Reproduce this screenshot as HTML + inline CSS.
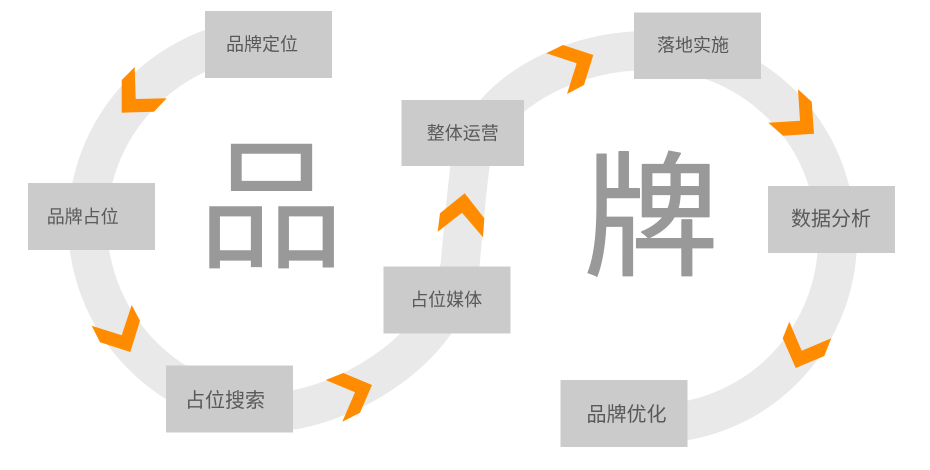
<!DOCTYPE html>
<html lang="zh">
<head>
<meta charset="utf-8">
<title>品牌</title>
<style>
html,body{margin:0;padding:0;background:#fff;width:930px;height:470px;overflow:hidden}
svg{display:block}
text{font-family:"Liberation Sans","Noto Sans CJK SC",sans-serif;fill:#595959;text-anchor:middle;dominant-baseline:central}
.s{font-size:18px}.l{font-size:20px}
.big{fill:#999}
</style>
</head>
<body>
<svg width="930" height="470" viewBox="0 0 930 470" xmlns="http://www.w3.org/2000/svg">
<path fill="none" stroke="#e9e9e9" stroke-width="39" d="M225 44 A188 188 0 0 0 87.5 226 A188 188 0 0 0 293 410 C360 398 445 345 460 266 C463 232 466 198 470 166 C478 100 560 55 634 51 A185 185 0 0 1 829 186 A185 185 0 0 1 837 253 A185 185 0 0 1 670 423"/>

<polygon fill="#ff8c00" points="134.7,67 121.7,80 121.7,112.7 154,111.7 166.7,98.3 135.7,99"/>
<polygon fill="#ff8c00" points="131.7,305 140,320.7 130.3,352 100,342.3 91.7,325.7 121.7,335.3"/>
<polygon fill="#ff8c00" points="325.7,380 343.3,373 372,385 360,412.7 342.3,421.7 355,392.3"/>
<polygon fill="#ff8c00" points="464.7,193.3 484.3,218.3 483,237.3 462,212.7 437.7,231.7 440,213.3"/>
<polygon fill="#ff8c00" points="563,45 593.3,55 584,85 567,94 576.7,63.3 546.3,53.3"/>
<polygon fill="#ff8c00" points="798,89.3 811.7,101.7 814,133.7 783,135.7 768.3,122.7 800,120.7"/>
<polygon fill="#ff8c00" points="789.3,321.7 801.7,350.7 831.3,338.3 824.3,356 795.7,368 782.7,338.3"/>

<g fill="#cbcbcb">
<rect x="205" y="11" width="127" height="67"/>
<rect x="28" y="183" width="127" height="67"/>
<rect x="166" y="365.5" width="127" height="67"/>
<rect x="383.5" y="266.5" width="127" height="67"/>
<rect x="401.5" y="100" width="122.5" height="66"/>
<rect x="634" y="12.5" width="127" height="66.5"/>
<rect x="768" y="186" width="127" height="67"/>
<rect x="560.5" y="380" width="127" height="67"/>
</g>

<text class="s" x="262" y="44.5">品牌定位</text>
<text class="s" x="82.7" y="217">品牌占位</text>
<text class="l" x="225" y="401">占位搜索</text>
<text class="s" x="446.2" y="300">占位媒体</text>
<text class="s" x="462.8" y="133.7">整体运营</text>
<text class="s" x="693" y="45.3">落地实施</text>
<text class="l" x="831" y="219.3">数据分析</text>
<text class="l" x="626.5" y="415">品牌优化</text>

<text class="big" transform="translate(271 208) scale(1 .96)" x="0" y="0" style="font-size:148px">品</text>
<text class="big" x="651" y="218.5" style="font-size:135px;stroke:#999;stroke-width:1.5px;stroke-linejoin:round">牌</text>
</svg>
</body>
</html>
